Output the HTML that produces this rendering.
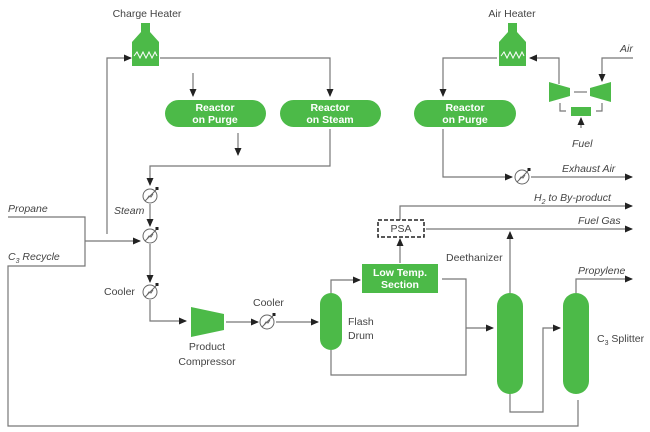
<!DOCTYPE html>
<html><head><meta charset="utf-8"><style>
html,body{margin:0;padding:0;background:#fff;}
svg{display:block;}
text{font-family:"Liberation Sans",sans-serif;font-size:10.5px;fill:#444;}
.i{font-style:italic;}
.w{fill:#fff;font-weight:bold;font-size:10.5px;}
</style></head><body>
<svg width="650" height="432" viewBox="0 0 650 432" xmlns="http://www.w3.org/2000/svg">
<defs>
<marker id="a" markerWidth="8" markerHeight="8" refX="7" refY="4" orient="auto" markerUnits="userSpaceOnUse">
<path d="M0,0.5 L8,4 L0,7.5 Z" fill="#222"/></marker>
<g id="hx"><circle cx="0" cy="0" r="7" fill="#fff" stroke="#666" stroke-width="1"/>
<path d="M-5,5 L6,-6 M-3,3 L-1,0 L1,1 L3,-2" stroke="#666" stroke-width="1" fill="none"/>
<rect x="5.5" y="-9" width="3" height="3" fill="#222"/></g>
<g id="heater"><path d="M9,0 H18 V9 L27,19 V43 H0 V19 L9,9 Z" fill="#4cba48"/>
<path d="M2,33 L5,29 L8,35 L11,29 L14,35 L17,29 L20,35 L23,29 L25,33" stroke="#fff" stroke-width="1" fill="none"/></g>
</defs>
<g stroke="#777" stroke-width="1.2" fill="none">
<path d="M160,58 H330 V96" marker-end="url(#a)"/>
<path d="M107,234 V58 H131" marker-end="url(#a)"/>
<path d="M193,73 V96" marker-end="url(#a)"/>
<path d="M238,133 V155" marker-end="url(#a)"/>
<path d="M330,129 V166 H150 V185" marker-end="url(#a)"/>
<path d="M150,204 V226" marker-end="url(#a)"/>
<path d="M150,244 V282" marker-end="url(#a)"/>
<path d="M8,217 H85 V266 H8 V426 H578 V400"/>
<path d="M85,241 H140" marker-end="url(#a)"/>
<path d="M150,300 V321 H186" marker-end="url(#a)"/>
<path d="M226,322 H258" marker-end="url(#a)"/>
<path d="M276,322 H318" marker-end="url(#a)"/>
<path d="M331,293 V280 H360" marker-end="url(#a)"/>
<path d="M331,350 V375 H466 V279 H442"/>
<path d="M466,328 H493" marker-end="url(#a)"/>
<path d="M400,263 V239" marker-end="url(#a)"/>
<path d="M400,220 V206 H632" marker-end="url(#a)"/>
<path d="M426,229 H632" marker-end="url(#a)"/>
<path d="M510,293 V232" marker-end="url(#a)"/>
<path d="M510,394 V412 H543 V328 H560" marker-end="url(#a)"/>
<path d="M576,293 V279 H632" marker-end="url(#a)"/>
<path d="M497,58 H443 V96" marker-end="url(#a)"/>
<path d="M443,129 V177 H512" marker-end="url(#a)"/>
<path d="M531,177 H632" marker-end="url(#a)"/>
<path d="M559,84 V58 H530" marker-end="url(#a)"/>
<path d="M633,58 H602 V81" marker-end="url(#a)"/>
<path d="M581,128 V118" marker-end="url(#a)"/>
<path d="M574,92 H587"/>
<path d="M560,103 V111 H566 M596,111 H602 V103"/>
</g>
<use href="#hx" x="150" y="196"/>
<use href="#hx" x="150" y="236"/>
<use href="#hx" x="150" y="292"/>
<use href="#hx" x="267" y="322"/>
<use href="#hx" x="522" y="177"/>
<use href="#heater" x="132" y="23"/>
<use href="#heater" x="499" y="23"/>
<rect x="165" y="100" width="101" height="27" rx="13.5" fill="#4cba48"/>
<rect x="280" y="100" width="101" height="27" rx="13.5" fill="#4cba48"/>
<rect x="414" y="100" width="102" height="27" rx="13.5" fill="#4cba48"/>
<text class="w" x="215" y="111" text-anchor="middle">Reactor</text>
<text class="w" x="215" y="123" text-anchor="middle">on Purge</text>
<text class="w" x="330" y="111" text-anchor="middle">Reactor</text>
<text class="w" x="330" y="123" text-anchor="middle">on Steam</text>
<text class="w" x="465" y="111" text-anchor="middle">Reactor</text>
<text class="w" x="465" y="123" text-anchor="middle">on Purge</text>
<path d="M549,82 L570,88 V96 L549,102 Z" fill="#4cba48"/>
<path d="M611,82 L590,88 V96 L611,102 Z" fill="#4cba48"/>
<rect x="571" y="107" width="20" height="9" fill="#4cba48"/>
<path d="M191,307 L224,314 V330 L191,337 Z" fill="#4cba48"/>
<rect x="320" y="293" width="22" height="57" rx="11" fill="#4cba48"/>
<rect x="497" y="293" width="26" height="101" rx="13" fill="#4cba48"/>
<rect x="563" y="293" width="26" height="101" rx="13" fill="#4cba48"/>
<rect x="362" y="264" width="76" height="29" fill="#4cba48"/>
<text class="w" x="400" y="276" text-anchor="middle">Low Temp.</text>
<text class="w" x="400" y="288" text-anchor="middle">Section</text>
<rect x="378" y="220" width="46" height="17" fill="#fff" stroke="#222" stroke-width="1.5" stroke-dasharray="4,2"/>
<text x="401" y="232" text-anchor="middle">PSA</text>
<text x="147" y="17" text-anchor="middle">Charge Heater</text>
<text x="512" y="17" text-anchor="middle">Air Heater</text>
<text class="i" x="620" y="52">Air</text>
<text class="i" x="572" y="147">Fuel</text>
<text class="i" x="562" y="172">Exhaust Air</text>
<text class="i" x="534" y="201">H<tspan font-size="7" dy="3">2</tspan><tspan dy="-3"> to By-product</tspan></text>
<text class="i" x="578" y="224">Fuel Gas</text>
<text class="i" x="578" y="274">Propylene</text>
<text class="i" x="114" y="214">Steam</text>
<text class="i" x="8" y="212">Propane</text>
<text class="i" x="8" y="260">C<tspan font-size="7" dy="3">3</tspan><tspan dy="-3"> Recycle</tspan></text>
<text x="104" y="295">Cooler</text>
<text x="253" y="306">Cooler</text>
<text x="207" y="350" text-anchor="middle">Product</text>
<text x="207" y="365" text-anchor="middle">Compressor</text>
<text x="348" y="325">Flash</text>
<text x="348" y="339">Drum</text>
<text x="446" y="261">Deethanizer</text>
<text x="597" y="342">C<tspan font-size="7" dy="3">3</tspan><tspan dy="-3"> Splitter</tspan></text>
</svg>
</body></html>
